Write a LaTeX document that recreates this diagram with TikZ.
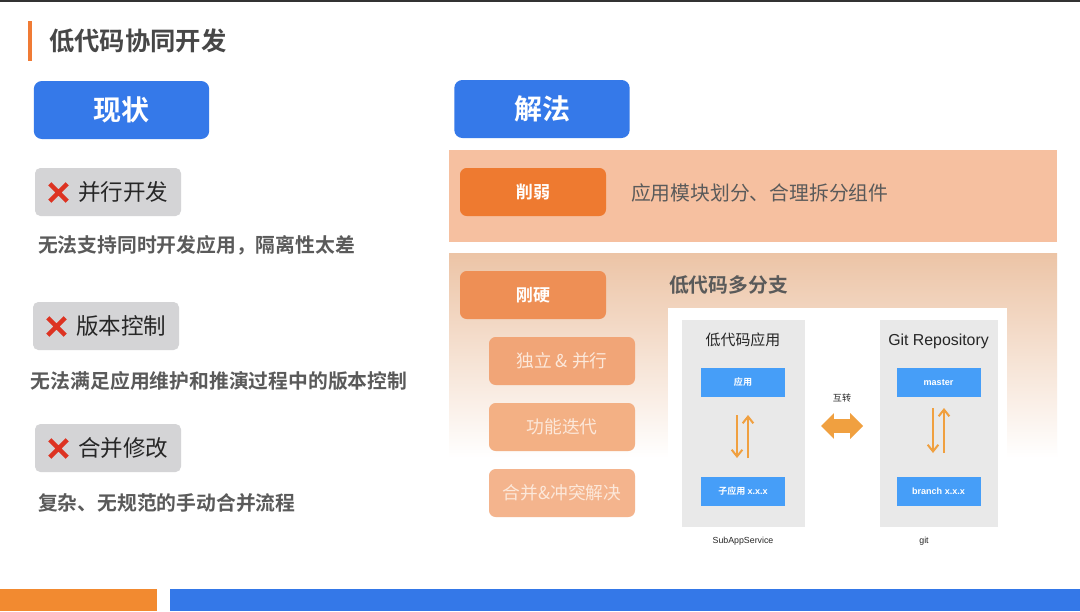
\documentclass[tikz,border=0pt]{standalone}
\usepackage{fontspec}
\setmainfont{Noto Sans CJK SC}
\newfontfamily\medfont{Noto Sans CJK SC Medium}
\newfontfamily\boldcjk{Noto Sans CJK SC Bold}
\newfontfamily\latinfont{Liberation Sans}
\usetikzlibrary{arrows.meta,shapes.arrows,shapes.misc}
\definecolor{barorange}{HTML}{F28A30}
\definecolor{barblue}{HTML}{3478E8}
\definecolor{headblue}{HTML}{3579E9}
\definecolor{pillgray}{HTML}{D4D4D6}
\definecolor{crossred}{HTML}{DD3322}
\definecolor{textgray}{HTML}{5A5A5A}
\definecolor{softorange}{HTML}{F6C0A0}
\definecolor{fadeorange}{HTML}{ECC4A6}
\definecolor{panelgray}{HTML}{E9E9E9}
\definecolor{tagblue}{HTML}{469EF8}
\definecolor{arroworange}{HTML}{F0A040}
\definecolor{softtext}{HTML}{FCE8DA}
\definecolor{titlebar}{HTML}{F07B35}
\definecolor{weakfill}{HTML}{EE7A30}
\definecolor{hardfill}{HTML}{EE8F55}
\definecolor{tagone}{HTML}{F1A577}
\definecolor{tagtwo}{HTML}{F3B084}
\definecolor{tagthree}{HTML}{F4B48D}
\begin{document}
\begin{tikzpicture}[x=0.75pt,y=-0.75pt,line cap=butt,
    every node/.style={inner sep=0pt,outer sep=0pt},
    headbox/.style={fill=headblue,rounded corners=6pt,minimum width=131.5pt,minimum height=43.5pt,text=white,font=\boldcjk\fontsize{21}{25}\selectfont},
    pillbox/.style={fill=pillgray,rounded corners=4pt,minimum width=109.5pt,minimum height=36pt},
    pilltext/.style={anchor=west,text=black!85,font=\fontsize{16.9}{20}\selectfont},
    redcross/.style={cross out,draw=crossred,line width=3.4pt,minimum size=13pt},
    desc/.style={anchor=west,text=textgray,font=\boldcjk\fontsize{14.85}{18}\selectfont},
    tagbox/.style={rounded corners=5pt,minimum width=109.5pt,minimum height=36pt},
    softtag/.style={tagbox,text=softtext,font=\fontsize{13.3}{16}\selectfont},
    hardtag/.style={tagbox,text=white,font=\boldcjk\fontsize{12.8}{16}\selectfont},
    graypanel/.style={fill=panelgray,minimum height=155.25pt},
    bluetag/.style={fill=tagblue,minimum width=63pt,minimum height=21.75pt,text=white,font=\boldcjk\fontsize{6.8}{8}\selectfont},
    updown/.style={-{Straight Barb[length=5pt,width=8pt]},draw=arroworange,line width=1.5pt}]
    \useasboundingbox (0,0) rectangle (1080,611);
    \fill[white] (0,0) rectangle (1080,611);
    % frame
    \fill[black!80] (0,0) rectangle (1080,2);
    \fill[barorange] (0,589) rectangle (157,611);
    \fill[barblue] (170,589) rectangle (1080,611);
    \fill[titlebar] (28,21) rectangle (32,61);
    \node[anchor=west,text=black!72,font=\boldcjk\fontsize{19}{23}\selectfont] (title) at (49,41) {低代码协同开发};

    % left column
    \node[headbox] (now) at (121.5,110) {现状};
    \node[pillbox] (pa) at (108,192) {};
    \node[redcross] (xa) at (58.5,192.5) {};
    \node[pilltext] (pat) at (78,192) {并行开发};
    \node[desc] (da) at (38,245) {无法支持同时开发应用，隔离性太差};
    \node[pillbox] (pb) at (106,326) {};
    \node[redcross] (xb) at (56.5,326.5) {};
    \node[pilltext] (pbt) at (76,326) {版本控制};
    \node[desc] (db) at (31,381) {无法满足应用维护和推演过程中的版本控制};
    \node[pillbox] (pc) at (108,448) {};
    \node[redcross] (xc) at (58.5,448.5) {};
    \node[pilltext] (pct) at (78,448) {合并修改};
    \node[desc] (dc) at (38,503) {复杂、无规范的手动合并流程};

    % right column
    \node[headbox] (solve) at (542,109) {解法};
    \fill[softorange] (449,150) rectangle (1057,242);
    \shade[top color=fadeorange,bottom color=white] (449,253) rectangle (1057,458);
    \node[hardtag,fill=weakfill] (weak) at (533,192) {削弱};
    \node[anchor=west,text=textgray,font=\fontsize{14.85}{18}\selectfont] (weakt) at (631,193) {应用模块划分、合理拆分组件};
    \node[hardtag,fill=hardfill] (hard) at (533,295) {刚硬};
    \node[softtag,fill=tagone] (ta) at (562,361) {独立 \& 并行};
    \node[softtag,fill=tagtwo] (tb) at (562,427) {功能迭代};
    \node[softtag,fill=tagthree] (tc) at (562,493) {合并\&冲突解决};
    \node[anchor=west,text=textgray,font=\boldcjk\fontsize{14.85}{18}\selectfont] (multi) at (669,285) {低代码多分支};

    % branch chart
    \fill[white] (668,308) rectangle (1007,548);
    \node[graypanel,minimum width=92.25pt] (appbg) at (743.5,423.5) {};
    \node[graypanel,minimum width=88.5pt] (gitbg) at (939,423.5) {};
    \node[font=\fontsize{11.2}{14}\selectfont,text=black!85] (appt) at (743,340) {低代码应用};
    \node[font=\latinfont\fontsize{11.9}{14}\selectfont,text=black!85] (gitt) at (938.5,341) {Git Repository};
    \node[bluetag] (app) at (743,382.5) {应用};
    \node[bluetag] (sub) at (743,491.5) {子应用 {\latinfont\bfseries x.x.x}};
    \node[bluetag,font=\latinfont\bfseries\fontsize{6.8}{8}\selectfont] (master) at (938.5,382.5) {master};
    \node[bluetag,font=\latinfont\bfseries\fontsize{6.8}{8}\selectfont] (branch) at (938.5,491.5) {branch x.x.x};
    \coordinate (adt) at (737,415);
    \coordinate (adb) at (737,458);
    \coordinate (aub) at (748,458);
    \coordinate (aut) at (748,415);
    \coordinate (gdt) at (933,408);
    \coordinate (gdb) at (933,453);
    \coordinate (gub) at (944,453);
    \coordinate (gut) at (944,408);
    \draw[updown] (adt) -- (adb);
    \draw[updown] (aub) -- (aut);
    \draw[updown] (gdt) -- (gdb);
    \draw[updown] (gub) -- (gut);
    \node[double arrow,fill=arroworange,inner sep=4.9pt,minimum width=18.75pt,minimum height=31.5pt,double arrow head extend=4.5pt,double arrow head indent=0pt] (swap) at (842,426) {};
    \node[font=\fontsize{6.8}{8}\selectfont,text=black!85] (swapt) at (842,398) {互转};
    \node[font=\latinfont\fontsize{6.6}{8}\selectfont,text=black!85] (appn) at (743,541) {SubAppService};
    \node[font=\latinfont\fontsize{6.6}{8}\selectfont,text=black!85] (gitn) at (924,541) {git};
  \end{tikzpicture}
\end{document}
